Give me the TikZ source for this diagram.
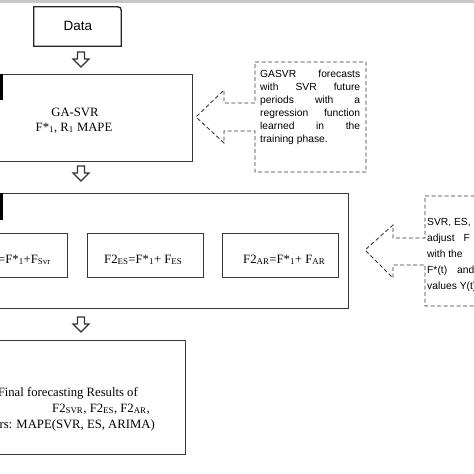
\documentclass[tikz,border=0pt]{standalone}
\usepackage{fontspec}
\setmainfont{Liberation Serif}
\newfontfamily\arialf{Liberation Sans}
\usetikzlibrary{calc}
\tikzset{
  boxline/.style={draw=black!78, line width=0.9pt},
  plainbox/.style={boxline, rectangle, inner sep=0pt},
  dataline/.style={draw=black!85, line width=1.3pt},
  callout/.style={draw=black!80, line width=0.85pt, dash pattern=on 4pt off 2.5pt},
  serift/.style={inner sep=0pt, font=\fontsize{12.7}{15}\selectfont},
  sanst/.style={inner sep=0pt, font=\arialf\fontsize{10.3}{13}\selectfont, anchor=base west},
  hollowdown/.pic={\draw[draw=black!80, line width=1.1pt, line join=miter] (-3.5,0) -- (-3.5,7) -- (-8,7) -- (0,15) -- (8,7) -- (3.5,7) -- (3.5,0) -- cycle;}
}
\begin{document}
\begin{tikzpicture}[x=1pt,y=-1pt]
\useasboundingbox (0,0) rectangle (474,474);
\clip (0,0) rectangle (474,474);
\fill[white] (0,0) rectangle (474,474);
\fill[black!22] (0,0) rectangle (474,2.5);

% Data box
\node[inner sep=0pt, minimum width=87pt, minimum height=39pt] (d) at (77.5,26.5) {};
\draw[dataline] (d.south west) -- (d.north west) -- ($(d.north east)+(-7,0)$) .. controls (d.north east) .. ($(d.north east)+(0,7)$) -- (d.south east) -- cycle;
\node[inner sep=0pt, anchor=base, font=\arialf\fontsize{13.5}{15}\selectfont] (dt) at (78,30.5) {Data};

% arrows
\pic at (81,52) {hollowdown};
\pic at (81,166) {hollowdown};
\pic at (81,317) {hollowdown};

% GA-SVR box
\node[plainbox, minimum width=234pt, minimum height=87pt] (g) at (75,117.5) {};
\fill[black] (0,74) rectangle (2.6,100);
\node[serift, anchor=base] (g1) at (75,116) {GA-SVR};
\node[serift, anchor=base] (g2) at (74,131) {F*\textsubscript{1}, R\textsubscript{1} MAPE};

% Combination box
\node[plainbox, minimum width=388pt, minimum height=115pt] (c) at (154,250.5) {};
\fill[black] (0,193) rectangle (2.6,220);
\node[plainbox, minimum width=116pt, minimum height=44pt] (b1) at (9,255) {};
\node[plainbox, minimum width=116pt, minimum height=44pt] (b2) at (145,255) {};
\node[plainbox, minimum width=116pt, minimum height=44pt] (b3) at (280,255) {};
\node[serift, anchor=base east] (t1) at (51,263) {=F*\textsubscript{1}+F\textsubscript{Svr}};
\node[serift, anchor=base west] (t2) at (104,263) {F2\textsubscript{ES}=F*\textsubscript{1}+ F\textsubscript{ES}};
\node[serift, anchor=base west] (t3) at (243,263) {F2\textsubscript{AR}=F*\textsubscript{1}+ F\textsubscript{AR}};

% Final box
\node[plainbox, minimum width=215pt, minimum height=114pt] (f) at (77.5,397) {};
\node[serift, anchor=base east] (f1) at (138,396) {Final forecasting Results of};
\node[serift, anchor=base west] (f2) at (52,412) {F2\textsubscript{SVR}, F2\textsubscript{ES}, F2\textsubscript{AR},};
\node[serift, anchor=base east] (f3) at (155,428) {rs: MAPE(SVR, ES, ARIMA)};

% Callout 1
\draw[callout] (255,62) -- (366,62) -- (366,172) -- (255,172) -- (255,131) -- (224,131) -- (224,143) -- (196,117) -- (224,90) -- (224,103) -- (255,103) -- cycle;
\node[sanst] (n1) at (260,77.5) {\makebox[100pt][s]{GASVR forecasts}};
\node[sanst] (n2) at (260,90.5) {\makebox[100pt][s]{with SVR future}};
\node[sanst] (n3) at (260,103.5) {\makebox[100pt][s]{periods with a}};
\node[sanst] (n4) at (260,116.5) {\makebox[100pt][s]{regression function}};
\node[sanst] (n5) at (260,129.5) {\makebox[100pt][s]{learned in the}};
\node[sanst] (n6) at (260,142.5) {training phase.};

% Callout 2
\draw[callout] (425,196) -- (495,196) -- (495,306) -- (425,306) -- (425,265) -- (393,265) -- (393,278) -- (365,250) -- (393,225) -- (393,238) -- (425,238) -- cycle;
\node[sanst] (m1) at (427,225.5) {SVR, ES,};
\node[sanst] (m2) at (427,241.4) {adjust\hspace{6pt} F};
\node[sanst] (m3) at (427,257.3) {with the};
\node[sanst] (m4) at (427,273.2) {F*(t)\hspace{7pt} and};
\node[sanst] (m5) at (427,289.1) {values Y(t)};
\end{tikzpicture}
\end{document}
